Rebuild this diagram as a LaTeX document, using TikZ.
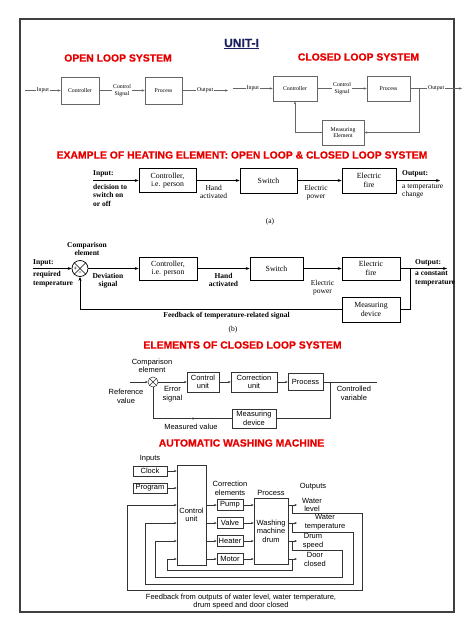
\documentclass[tikz,border=0pt]{standalone}
\usepackage{fontspec}
\setmainfont{Liberation Serif}
\setsansfont{Liberation Sans}
\newfontfamily\headfont{Liberation Sans Bold}[FakeBold=0.7]
\usetikzlibrary{arrows.meta,calc}
\definecolor{hred}{RGB}{230,0,0}
\definecolor{unitblue}{RGB}{25,30,95}
\begin{document}
\begin{tikzpicture}[x=1pt,y=-1pt,
  head/.style={font=\headfont\fontsize{10.4}{12}\selectfont, text=hred, inner sep=0pt},
  olbox/.style={draw=black!60, line width=0.6pt, inner sep=0pt, font=\fontsize{5.8}{6.6}\selectfont},
  oltext/.style={font=\fontsize{5.8}{6.6}\selectfont, inner sep=1pt, fill=white, align=center},
  olline/.style={draw=black!60, line width=0.6pt, -{Stealth[length=3pt,width=2.4pt]}},
  olplain/.style={draw=black!60, line width=0.6pt},
  hbox/.style={draw, line width=0.7pt, inner sep=0pt, font=\fontsize{7.8}{8.6}\selectfont, align=center},
  htext/.style={font=\fontsize{7.5}{8.5}\selectfont, inner sep=0pt, align=center},
  hbold/.style={font=\bfseries\fontsize{7.5}{8.3}\selectfont, inner sep=0pt, align=left},
  harr/.style={line width=0.7pt, -{Stealth[length=4pt,width=3pt]}},
  hline/.style={line width=0.7pt},
  sbox/.style={draw=black!80, line width=0.6pt, inner sep=0pt, font=\sffamily\fontsize{7.5}{8.5}\selectfont, align=center},
  stext/.style={font=\sffamily\fontsize{7.5}{8.7}\selectfont, inner sep=0pt, align=center},
  sarr/.style={draw=black!80, line width=0.5pt, -{Stealth[length=2.6pt,width=2.2pt]}},
  sline/.style={draw=black!80, line width=0.5pt}]
\useasboundingbox (0,0) rectangle (474,632);
\draw[line width=1.4pt, draw=black!75] (20,19) rectangle (454,612);

% ---------- titles ----------
\node[font=\headfont\fontsize{12}{14}\selectfont, text=unitblue, inner sep=0pt] (unit) at (241.5,44) {\underline{UNIT-I}};
\node[head] (t1) at (118,58) {OPEN LOOP SYSTEM};
\node[head] (t2) at (358.5,57) {CLOSED LOOP SYSTEM};

% ---------- open loop ----------
\node[olbox, minimum width=38pt, minimum height=27pt] (oc) at (80,90.5) {Controller};
\node[olbox, minimum width=37pt, minimum height=27pt] (op) at (163.5,90.5) {Process};
\coordinate (oin) at (25,90.5);
\coordinate (oout) at (228,90.5);
\draw[olline] (oin) -- node[oltext] {Input} (oc);
\draw[olline] (oc) -- node[oltext] {Control\\Signal} (op);
\draw[olline] (op) -- node[oltext] {Output} (oout);

% ---------- closed loop ----------
\node[olbox, minimum width=44pt, minimum height=25pt] (cc) at (295,88.5) {Controller};
\node[olbox, minimum width=43pt, minimum height=25pt] (cp) at (388.5,88.5) {Process};
\node[olbox, minimum width=42pt, minimum height=25pt, align=center] (cme) at (343,132.5) {Measuring\\Element};
\coordinate (cin) at (233,88.5);
\coordinate (cout) at (462,88.5);
\coordinate (cfb) at (419,88.5);
\draw[olline] (cin) -- node[oltext] {Input} (cc);
\draw[olline] (cc) -- node[oltext] {Control\\Signal} (cp);
\draw[olline] (cp) -- node[oltext, pos=0.5] {Output} (cout);
\draw[olline] (cfb) |- (cme);
\draw[olline] (cme) -| (cc);

% ---------- heating example ----------
\node[head] (t3) at (242,155) {EXAMPLE OF HEATING ELEMENT: OPEN LOOP \& CLOSED LOOP SYSTEM};

% (a)
\node[hbox, minimum width=57pt, minimum height=24pt] (ac) at (167.5,180.5) {Controller,\\i.e. person};
\node[hbox, minimum width=57pt, minimum height=25pt] (as) at (268.5,180.5) {Switch};
\node[hbox, minimum width=54pt, minimum height=25pt] (af) at (369,180.5) {Electric\\fire};
\coordinate (ain) at (93,180.5);
\coordinate (aout) at (440,180.5);
\draw[harr, line width=1.1pt] (ain) -- (ac);
\node[hbold, anchor=south west] (ainl) at (93,177.5) {Input:};
\node[hbold, anchor=north west] (ainl2) at (93,184) {decision to\\switch on\\or off};
\draw[harr] (ac) -- node[htext, below=4pt, pos=0.4] {Hand\\activated} (as);
\draw[harr] (as) -- node[htext, below=4pt, pos=0.42] {Electric\\power} (af);
\draw[harr] (af) -- (aout);
\node[hbold, anchor=south west] (aoutl) at (402,177.5) {Output:};
\node[htext, align=left, anchor=north west] (aoutl2) at (402,184) {a temperature\\change};
\node[htext] (alab) at (270,222) {(a)};

% (b)
\node[draw, circle, line width=0.7pt, minimum size=16pt, inner sep=0pt] (bcmp) at (80,268.5) {};
\draw[hline] (bcmp.north west) -- (bcmp.south east);
\draw[hline] (bcmp.north east) -- (bcmp.south west);
\node[font=\bfseries\fontsize{6}{6}\selectfont, inner sep=0pt] (bplus) at (75.3,268.5) {+};
\node[font=\bfseries\fontsize{6}{6}\selectfont, inner sep=0pt] (bminus) at (80,273.3) {−};
\node[hbox, minimum width=58pt, minimum height=23pt] (bc) at (168,268.5) {Controller,\\i.e. person};
\node[hbox, minimum width=53pt, minimum height=23pt] (bs) at (276.5,268.5) {Switch};
\node[hbox, minimum width=58pt, minimum height=23pt] (bf) at (371,268.5) {Electric\\fire};
\node[hbox, minimum width=58pt, minimum height=25pt] (bm) at (371,309.5) {Measuring\\device};
\coordinate (bin) at (33,268.5);
\coordinate (bout) at (447,268.5);
\coordinate (bfb) at (410,268.5);
\draw[harr, line width=1.1pt] (bin) -- (bcmp);
\node[hbold, anchor=south west] (binl) at (33,266) {Input:};
\node[hbold, anchor=north west] (binl2) at (33,271.5) {required\\temperature};
\node[hbold, align=center, anchor=south] (bcmpl) at (87,256) {Comparison\\element};
\draw[harr] (bcmp) -- node[hbold, align=center, below=4pt, pos=0.39] {Deviation\\signal} (bc);
\draw[harr] (bc) -- node[hbold, align=center, below=4pt] {Hand\\activated} (bs);
\draw[harr] (bs) -- node[htext, below=11pt] {Electric\\power} (bf);
\draw[harr] (bf) -- (bout);
\node[hbold, anchor=south west] (boutl) at (415,266) {Output:};
\node[hbold, anchor=north west] (boutl2) at (415,271.5) {a constant\\temperature};
\draw[hline] (bfb) |- (bm);
\draw[harr] (bm) -| node[hbold, pos=0.22, below=2.5pt] {Feedback of temperature-related signal} (bcmp);
\node[htext] (blab) at (233,330) {(b)};

% ---------- elements of closed loop ----------
\node[head] (t4) at (242.5,345) {ELEMENTS OF CLOSED LOOP SYSTEM};
\node[draw=black!80, circle, line width=0.5pt, minimum size=10pt, inner sep=0pt] (ecmp) at (153,382) {};
\draw[sline] (ecmp.north west) -- (ecmp.south east);
\draw[sline] (ecmp.north east) -- (ecmp.south west);
\node[stext, anchor=south] (ecmpl) at (152,373) {Comparison\\element};
\node[sbox, minimum width=32pt, minimum height=20pt] (ecu) at (203,382) {Control\\unit};
\node[sbox, minimum width=46pt, minimum height=20pt] (ecor) at (254,382) {Correction\\unit};
\node[sbox, minimum width=35pt, minimum height=17pt] (epr) at (305.5,382) {Process};
\node[sbox, minimum width=44pt, minimum height=19pt] (emd) at (254,418.5) {Measuring\\device};
\coordinate (ein) at (130,382);
\coordinate (eout) at (377,382);
\coordinate (efb) at (330,382);
\coordinate (emid) at (191,418.5);
\draw[sarr] (ein) -- (ecmp);
\node[stext] (einl) at (126,396) {Reference\\value};
\draw[sarr] (ecmp) -- node[stext, below=4pt] {Error\\signal} (ecu);
\draw[sarr] (ecu) -- (ecor);
\draw[sarr] (ecor) -- (epr);
\draw[sline] (epr) -- node[stext, below=4pt, pos=0.57] {Controlled\\variable} (eout);
\draw[sline] (efb) |- (emd);
\draw[sarr] (emd) -- (emid);
\draw[sline] (emid) -| (ecmp);
\node[stext] (emdl) at (191,427) {Measured value};

% ---------- automatic washing machine ----------
\node[head] (t5) at (241.5,443) {AUTOMATIC WASHING MACHINE};
\node[stext] (winl) at (150,459) {Inputs};
\node[sbox, minimum width=34pt, minimum height=10pt] (wclk) at (150,471) {Clock};
\node[sbox, minimum width=34pt, minimum height=10pt] (wprg) at (150,488) {Program};
\node[sbox, minimum width=29pt, minimum height=100pt] (wcu) at (191.5,515) {Control\\unit};
\node[sbox, minimum width=26pt, minimum height=11pt] (wpump) at (230,505) {Pump};
\node[sbox, minimum width=26pt, minimum height=11pt] (wvalve) at (230,523) {Valve};
\node[sbox, minimum width=26pt, minimum height=11pt] (wheat) at (230,541) {Heater};
\node[sbox, minimum width=26pt, minimum height=11pt] (wmot) at (230,559) {Motor};
\node[sbox, minimum width=34pt, minimum height=66pt] (wdrum) at (271,531) {Washing\\machine\\drum};
\node[stext] (wcel) at (230,488.5) {Correction\\elements};
\node[stext] (wprl) at (271,493) {Process};
\node[stext] (woutl) at (313,487) {Outputs};

\draw[sarr] (wclk.east) -- (wclk.east -| wcu.west);
\draw[sarr] (wprg.east) -- (wprg.east -| wcu.west);
\foreach \b in {wpump,wvalve,wheat,wmot}{
  \draw[sarr] (\b.west -| wcu.east) -- (\b.west);
  \draw[sarr] (\b.east) -- (\b.east -| wdrum.west);
}
\coordinate (wo1) at (297,505);
\coordinate (wo2) at (297,523);
\coordinate (wo3) at (297,541);
\coordinate (wo4) at (297,559);
\draw[sarr] (wo1 -| wdrum.east) -- (wo1);
\draw[sarr] (wo2 -| wdrum.east) -- (wo2);
\draw[sarr] (wo3 -| wdrum.east) -- (wo3);
\draw[sarr] (wo4 -| wdrum.east) -- (wo4);
\node[stext] (wl1) at (312,505) {Water\\level};
\node[stext] (wl2) at (325,522.5) {Water\\temperature};
\node[stext] (wl3) at (313,541.5) {Drum\\speed};
\node[stext] (wl4) at (315,559.5) {Door\\closed};

\coordinate (wb1) at (292,505);
\coordinate (wb2) at (292,523);
\coordinate (wb3) at (292,541);
\coordinate (wb4) at (292,559);
\draw[sarr] (wb1) |- (362,513) |- (127,590) |- (wpump -| wcu.west);
\draw[sarr] (wb2) |- (353,532) |- (145,584) |- (wvalve -| wcu.west);
\draw[sarr] (wb3) |- (342,550) |- (155,577) |- (wheat -| wcu.west);
\draw[sarr] (wb4) |- (167,570) |- (wmot -| wcu.west);
\node[stext] (wfbl) at (241,601.5) {Feedback from outputs of water level, water temperature,\\drum speed and door closed};
\end{tikzpicture}
\end{document}
